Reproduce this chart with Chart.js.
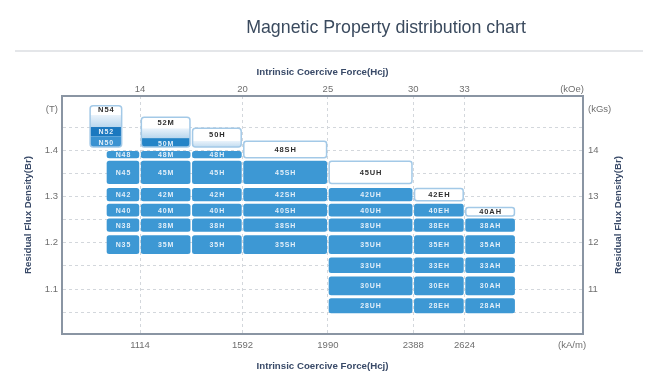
<!DOCTYPE html>
<html><head><meta charset="utf-8">
<script src="https://cdn.jsdelivr.net/npm/chart.js@4.4.1/dist/chart.umd.min.js"></script>
<style>html,body{margin:0;padding:0;background:#fff;}#wrap{width:650px;height:388px;position:relative;}</style>
</head><body><div id="wrap"><canvas id="c" width="650" height="388"></canvas></div>
<script>
// ---- data ----
const hcjTicksKOe = [14, 20, 25, 30, 33];
const hcjTicksKAm = [1114, 1592, 1990, 2388, 2624];
const brTicksT = [1.1, 1.2, 1.3, 1.4];
const brTicksKGs = [11, 12, 13, 14];
const brGrid = [1.05, 1.10, 1.15, 1.20, 1.25, 1.30, 1.35, 1.40, 1.45];

const gradeSeries = ['N', 'M', 'H', 'SH', 'UH', 'EH', 'AH'];
const seriesHcj = [[12, 14], [14, 17], [17, 20], [20, 25], [25, 30], [30, 33], [33, 36]]; // kOe
const gradeLevels = ['28', '30', '33', '35', '38', '40', '42', '45', '48'];
const levelBr = [[1.046, 1.082], [1.085, 1.129], [1.133, 1.170], [1.174, 1.218], [1.222, 1.254],
                 [1.255, 1.286], [1.288, 1.320], [1.325, 1.379], [1.381, 1.400]]; // T
const seriesSolidLevels = [[3,4,5,6,7,8],[3,4,5,6,7,8],[3,4,5,6,7,8],[3,4,5,6,7],[0,1,2,3,4,5,6],[0,1,2,3,4,5],[0,1,2,3,4]];

const topGradeLabels = ['48SH', '45UH', '42EH', '40AH'];
const topGradeHcj = [[20, 25], [25, 30], [30, 33], [33, 36]];
const topGradeBr = [[1.381, 1.422], [1.325, 1.379], [1.288, 1.320], [1.255, 1.279]];

const stackLabels = ['N54', '52M', '50H'];
const stackHcj = [[11, 13], [14, 17], [17, 20]];
const stackBr = [[1.404, 1.499], [1.404, 1.474], [1.404, 1.450]];
const stackFadeBr = [[1.450, 1.476], [1.426, 1.447], [1.404, 1.420]];

const subLabels = ['N52', 'N50', '50M'];
const subParent = [0, 0, 1];
const subBr = [[1.430, 1.450], [1.404, 1.430], [1.404, 1.426]];

// ---- styles ----
const FONT = '"Liberation Sans", Arial, sans-serif';
const BLUE = '#3d98d4';
const SUB_COLORS = ['#1b78bf', '#3a92d1', '#2484c7'];
const OUTLINE = '#a3c9e7';
const AXIS_TITLE = '#394a68';
const TICK = '#6f6f6f';

function rrPath(ctx, x0, y0, x1, y1, r) {
  ctx.beginPath();
  ctx.moveTo(x0 + r, y0);
  ctx.lineTo(x1 - r, y0); ctx.quadraticCurveTo(x1, y0, x1, y0 + r);
  ctx.lineTo(x1, y1 - r); ctx.quadraticCurveTo(x1, y1, x1 - r, y1);
  ctx.lineTo(x0 + r, y1); ctx.quadraticCurveTo(x0, y1, x0, y1 - r);
  ctx.lineTo(x0, y0 + r); ctx.quadraticCurveTo(x0, y0, x0 + r, y0);
  ctx.closePath();
}

const boxesPlugin = {
  id: 'boxes',
  beforeDatasetsDraw(chart) {
    const ctx = chart.ctx, xs = chart.scales.x, ys = chart.scales.y;
    const g = 0.8;
    const rect = (h, b) => [xs.getPixelForValue(h[0]) + g, ys.getPixelForValue(b[1]) + g,
                            xs.getPixelForValue(h[1]) - g, ys.getPixelForValue(b[0]) - g];
    const text = (t, x, y, color, size) => {
      ctx.save();
      ctx.font = 'bold ' + size + 'px "Liberation Sans", Arial, sans-serif';
      if ('letterSpacing' in ctx) ctx.letterSpacing = '0.9px';
      ctx.fillStyle = color; ctx.textAlign = 'center'; ctx.textBaseline = 'middle';
      ctx.fillText(t, x + 0.45, y);
      ctx.restore();
    };
    ctx.save();
    seriesSolidLevels.forEach((levels, s) => {
      levels.forEach(li => {
        const [x0, y0, x1, y1] = rect(seriesHcj[s], levelBr[li]);
        rrPath(ctx, x0, y0, x1, y1, 2.5);
        ctx.fillStyle = BLUE; ctx.fill();
        const lbl = s === 0 ? gradeSeries[s] + gradeLevels[li] : gradeLevels[li] + gradeSeries[s];
        text(lbl, (x0 + x1) / 2, (y0 + y1) / 2 + 0.5, '#e3eff9', 7);
      });
    });
    topGradeLabels.forEach((lbl, i) => {
      const [x0, y0, x1, y1] = rect(topGradeHcj[i], topGradeBr[i]);
      rrPath(ctx, x0 + 0.5, y0 + 0.5, x1 - 0.5, y1 - 0.5, 2.5);
      ctx.fillStyle = '#ffffff'; ctx.fill();
      ctx.lineWidth = 1.5; ctx.strokeStyle = OUTLINE; ctx.stroke();
      text(lbl, (x0 + x1) / 2, (y0 + y1) / 2 + 0.5, '#2e2e2e', 7.5);
    });
    stackLabels.forEach((lbl, i) => {
      const [x0, y0, x1, y1] = rect(stackHcj[i], stackBr[i]);
      rrPath(ctx, x0 + 0.5, y0 + 0.5, x1 - 0.5, y1 - 0.5, 3);
      ctx.fillStyle = '#ffffff'; ctx.fill();
      ctx.save();
      ctx.clip();
      const fy0 = ys.getPixelForValue(stackFadeBr[i][1]);
      const fy1 = ys.getPixelForValue(stackFadeBr[i][0]);
      const grad = ctx.createLinearGradient(0, fy0, 0, fy1);
      grad.addColorStop(0, '#eaf3fb'); grad.addColorStop(1, '#b9d7ee');
      ctx.fillStyle = grad; ctx.fillRect(x0, fy0, x1 - x0, fy1 - fy0);
      subLabels.forEach((sl, k) => {
        if (subParent[k] !== i) return;
        const sy0 = ys.getPixelForValue(subBr[k][1]);
        const sy1 = ys.getPixelForValue(subBr[k][0]);
        ctx.fillStyle = SUB_COLORS[k]; ctx.fillRect(x0, sy0, x1 - x0, sy1 - sy0);
      });
      ctx.restore();
      rrPath(ctx, x0 + 0.5, y0 + 0.5, x1 - 0.5, y1 - 0.5, 3);
      ctx.lineWidth = 1.5; ctx.strokeStyle = OUTLINE; ctx.stroke();
      const ly = (ys.getPixelForValue(stackBr[i][1]) + ys.getPixelForValue(stackFadeBr[i][1])) / 2;
      text(lbl, (x0 + x1) / 2, ly + 0.5, '#2e2e2e', 7.5);
      subLabels.forEach((sl, k) => {
        if (subParent[k] !== i) return;
        const sy = (ys.getPixelForValue(subBr[k][1]) + ys.getPixelForValue(subBr[k][0])) / 2;
        text(sl, (x0 + x1) / 2, sy + 0.5, '#e3eff9', 7);
      });
    });
    ctx.restore();
  },
  afterDraw(chart) {
    const ctx = chart.ctx;
    ctx.save();
    ctx.font = '17.8px ' + FONT;
    ctx.fillStyle = '#3a4a5e'; ctx.textAlign = 'center'; ctx.textBaseline = 'middle';
    ctx.fillText('Magnetic Property distribution chart', 386, 28);
    ctx.fillStyle = '#e4e6e9'; ctx.fillRect(15, 50, 628, 2);
    const ca = chart.chartArea;
    ctx.translate(618, (ca.top + ca.bottom) / 2);
    ctx.rotate(-Math.PI / 2);
    ctx.font = 'bold 9.7px ' + FONT;
    ctx.fillStyle = AXIS_TITLE;
    ctx.fillText('Residual Flux Density(Br)', 0, 0);
    ctx.restore();
  }
};

const X_MIN = 9.43, X_MAX = 39.94, UNIT_X = 39.3;
const Y_MIN = 1.003, Y_MAX = 1.517, UNIT_Y = 1.488;

const tickFont = { family: FONT, size: 9.5 };
const titleFont = { family: FONT, size: 9.7, weight: 'bold' };
const borderOpt = { color: '#8a95a3', width: 2, dash: [3, 3] };

const xTickBuild = s => { s.ticks = hcjTicksKOe.concat([UNIT_X]).map(v => ({ value: v })); };
const yTickBuild = s => { s.ticks = brGrid.concat([UNIT_Y]).map(v => ({ value: v })); };
const yLabel = (v, arr, unit) => {
  if (Math.abs(v - UNIT_Y) < 1e-6) return unit;
  const k = brTicksT.findIndex(t => Math.abs(t - v) < 1e-6);
  return k >= 0 ? String(arr[k]) : '';
};

new Chart(document.getElementById('c'), {
  type: 'scatter',
  data: { datasets: [] },
  options: {
    responsive: false, animation: false,
    layout: { padding: { top: 60, left: 0, right: 0, bottom: 0 } },
    plugins: { legend: { display: false }, tooltip: { enabled: false }, title: { display: false } },
    scales: {
      x: {
        type: 'linear', position: 'bottom', min: X_MIN, max: X_MAX,
        afterBuildTicks: xTickBuild,
        afterFit: s => { s.height = 54; },
        ticks: { autoSkip: false, maxRotation: 0, padding: 5.6, font: tickFont, color: TICK,
                 callback: (v, i) => i < hcjTicksKAm.length ? String(hcjTicksKAm[i]) : '(kA/m)' },
        grid: { drawTicks: false, lineWidth: 1, color: c => c.index < hcjTicksKOe.length ? '#d3d7dc' : 'rgba(0,0,0,0)' },
        border: borderOpt,
        title: { display: true, text: 'Intrinsic Coercive Force(Hcj)', font: titleFont, color: AXIS_TITLE, padding: { top: 0, bottom: 16 } }
      },
      x2: {
        type: 'linear', position: 'top', min: X_MIN, max: X_MAX,
        afterBuildTicks: xTickBuild,
        afterFit: s => { s.height = 36; },
        ticks: { autoSkip: false, maxRotation: 0, padding: 1, font: tickFont, color: TICK,
                 callback: (v, i) => i < hcjTicksKOe.length ? String(hcjTicksKOe[i]) : '(kOe)' },
        grid: { drawTicks: false, drawOnChartArea: false },
        border: borderOpt,
        title: { display: true, text: 'Intrinsic Coercive Force(Hcj)', font: titleFont, color: AXIS_TITLE, padding: { top: 7, bottom: 0 } }
      },
      y: {
        type: 'linear', position: 'left', min: Y_MIN, max: Y_MAX,
        afterBuildTicks: yTickBuild,
        afterFit: s => { s.width = 62; },
        ticks: { autoSkip: false, padding: 4, font: tickFont, color: TICK,
                 callback: v => yLabel(v, brTicksT.map(t => t.toFixed(1)), '(T)') },
        grid: { drawTicks: false, lineWidth: 1, color: c => (c.tick && Math.abs(c.tick.value - UNIT_Y) < 1e-6) ? 'rgba(0,0,0,0)' : '#d3d7dc' },
        border: borderOpt,
        title: { display: true, text: 'Residual Flux Density(Br)', font: titleFont, color: AXIS_TITLE, padding: { top: 23, bottom: 0 } }
      },
      y2: {
        type: 'linear', position: 'right', min: Y_MIN, max: Y_MAX,
        afterBuildTicks: yTickBuild,
        afterFit: s => { s.width = 67; },
        ticks: { autoSkip: false, padding: 5, font: tickFont, color: TICK,
                 callback: v => yLabel(v, brTicksKGs, '(kGs)') },
        grid: { drawTicks: false, drawOnChartArea: false },
        border: borderOpt,
        title: { display: false }
      }
    }
  },
  plugins: [boxesPlugin]
});
</script>
</body></html>
